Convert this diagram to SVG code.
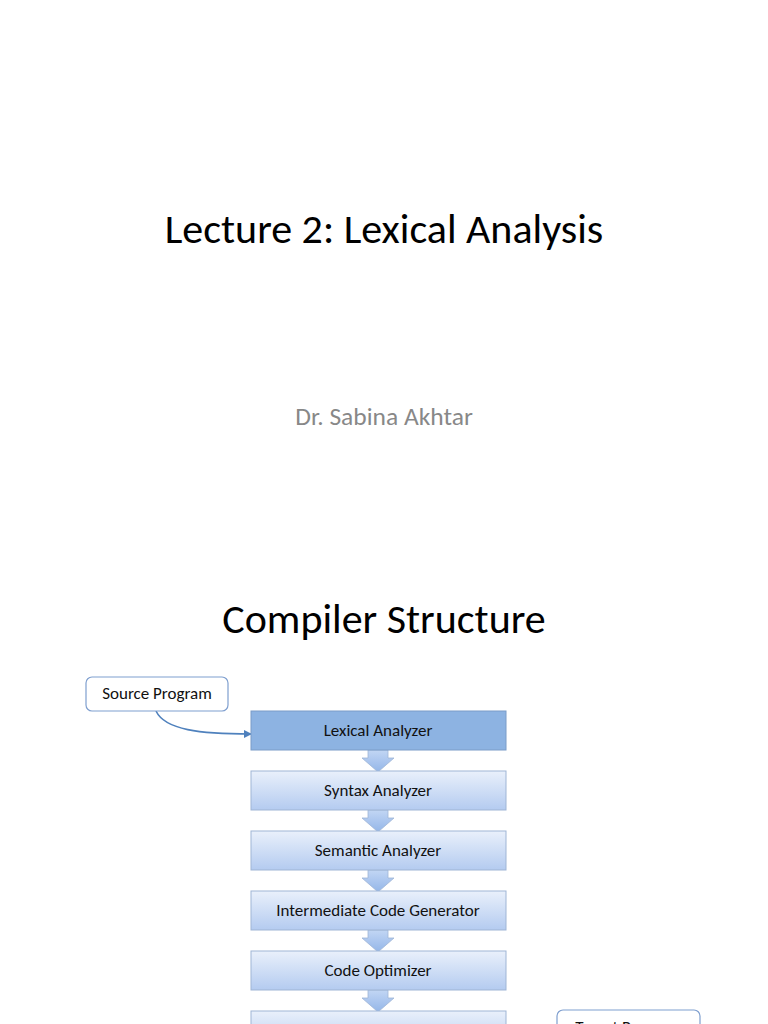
<svg xmlns="http://www.w3.org/2000/svg" width="768" height="1024" viewBox="0 0 768 1024">
<defs>
<linearGradient id="g" x1="0" y1="0" x2="0" y2="1"><stop offset="0" stop-color="#e9f0fb"/><stop offset="1" stop-color="#b4cbf0"/></linearGradient>
<linearGradient id="ga" x1="0" y1="0" x2="0" y2="1"><stop offset="0" stop-color="#c2d6f4"/><stop offset="1" stop-color="#94b6e8"/></linearGradient>
<marker id="m" markerWidth="8" markerHeight="8" refX="7" refY="4" orient="auto" markerUnits="userSpaceOnUse"><path d="M0,0 L8,4 L0,8 Z" fill="#4f81bd"/></marker>
</defs>
<style>
text{font-family:Calibri,Carlito,"Liberation Sans",sans-serif;text-anchor:middle}
.b{fill:url(#g);stroke:#9fb5d5;stroke-width:1}
.l{font-size:17px;fill:#111}
.r{fill:#fff;stroke:#7f9fcf;stroke-width:1.2}
.arr{fill:url(#ga);stroke:#9fb5d5;stroke-width:0.8}
</style>
<rect width="768" height="1024" fill="#fff"/>
<text x="384" y="243" font-size="42" fill="#000">Lecture 2: Lexical Analysis</text>
<text x="384" y="425" font-size="25.5" fill="#888">Dr. Sabina Akhtar</text>
<text x="384" y="633" font-size="42" fill="#000">Compiler Structure</text>
<g id="connectors">
<path d="M156,711 C165,730 200,734 251,734" fill="none" stroke="#4f81bd" stroke-width="1.6" marker-end="url(#m)"/>
<path class="arr" d="M368,750 h20 v8 h6 l-16,14 l-16,-14 h6 z"/>
<path class="arr" d="M368,810 h20 v8 h6 l-16,14 l-16,-14 h6 z"/>
<path class="arr" d="M368,870 h20 v8 h6 l-16,14 l-16,-14 h6 z"/>
<path class="arr" d="M368,930 h20 v8 h6 l-16,14 l-16,-14 h6 z"/>
<path class="arr" d="M368,990 h20 v8 h6 l-16,14 l-16,-14 h6 z"/>
</g>
<g id="source"><rect class="r" x="86" y="677" width="142" height="34" rx="6"/><text class="l" x="157" y="699">Source Program</text></g>
<g id="lexical"><rect x="251" y="711" width="255" height="39" fill="#8db3e2" stroke="#7a9cc8"/><text class="l" x="378" y="736">Lexical Analyzer</text></g>
<g id="syntax"><rect class="b" x="251" y="771" width="255" height="39"/><text class="l" x="378" y="796">Syntax Analyzer</text></g>
<g id="semantic"><rect class="b" x="251" y="831" width="255" height="39"/><text class="l" x="378" y="856">Semantic Analyzer</text></g>
<g id="icg"><rect class="b" x="251" y="891" width="255" height="39"/><text class="l" x="378" y="916">Intermediate Code Generator</text></g>
<g id="opt"><rect class="b" x="251" y="951" width="255" height="39"/><text class="l" x="378" y="976">Code Optimizer</text></g>
<g id="gen"><rect class="b" x="251" y="1011" width="255" height="39"/><text class="l" x="378" y="1035">Code Generator</text></g>
<g id="target"><rect class="r" x="557" y="1010" width="143" height="34" rx="6"/><text class="l" x="628" y="1033">Target Program</text></g>
</svg>
